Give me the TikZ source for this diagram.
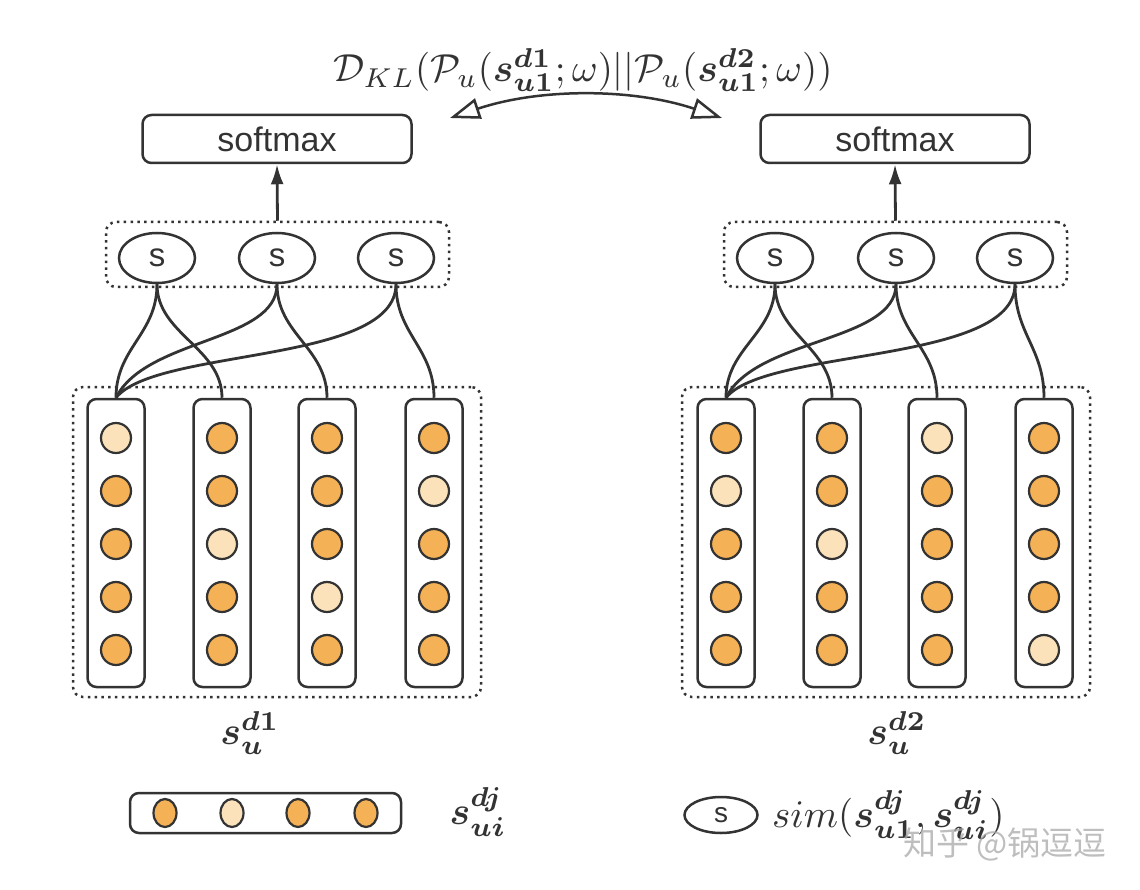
\documentclass[tikz,border=0pt]{standalone}
\usepackage{graphicx}
\usepackage{amsmath,bm}
\usepackage{fontspec}
\setsansfont{Liberation Sans}
\newfontfamily\cjkfont{Noto Sans CJK SC}
\usetikzlibrary{arrows.meta,shapes.geometric}
\definecolor{ink}{HTML}{333333}
\definecolor{dark}{HTML}{F4B155}
\definecolor{light}{HTML}{FBE2BA}
\definecolor{wm}{HTML}{A8A8A8}
\newcommand{\bigmath}[1]{\scalebox{3.9}{$#1$}}
\tikzset{
  box/.style={draw=ink, line width=2.5pt, rounded corners=9pt, inner sep=0pt},
  smbox/.style={box, minimum width=269pt, minimum height=48pt,
    font=\sffamily\fontsize{34}{38}\selectfont, text=ink},
  simnode/.style={ellipse, draw=ink, line width=2.5pt, minimum width=76pt,
    minimum height=50pt, inner sep=0pt, font=\sffamily\fontsize{33}{36}\selectfont, text=ink},
  grp/.style={draw=ink, line width=2.5pt, dash pattern=on 2.5pt off 4.3pt,
    rounded corners=10pt, inner sep=0pt},
  colbox/.style={box, minimum width=57pt, minimum height=288pt},
  dot/.style={circle, draw=ink, line width=2.2pt, minimum size=30pt, inner sep=0pt},
  legdot/.style={ellipse, draw=ink, line width=2.2pt, minimum width=23pt,
    minimum height=28pt, inner sep=0pt},
  link/.style={draw=ink, line width=2.8pt},
  mathlbl/.style={text=ink, inner sep=0pt},
}
\begin{document}
\begin{tikzpicture}[x=1pt,y=-1pt]
\useasboundingbox (0,0) rectangle (1140,890);

% ---------- softmax boxes ----------
\node[smbox] (smL) at (277,139) {softmax};
\node[smbox] (smR) at (895,139) {softmax};

% ---------- similarity groups ----------
\node[grp, minimum width=343pt, minimum height=65pt] (gL) at (277.5,254.5) {};
\node[grp, minimum width=343pt, minimum height=65pt] (gR) at (895.5,254.5) {};
\node[simnode] (sL1) at (157,258) {s};
\node[simnode] (sL2) at (277,258) {s};
\node[simnode] (sL3) at (396,258) {s};
\node[simnode] (sR1) at (775,258) {s};
\node[simnode] (sR2) at (896,258) {s};
\node[simnode] (sR3) at (1015,258) {s};

\draw[link,-{Latex[length=20pt,width=13pt]}] (gL.north) -- (smL.south);
\draw[link,-{Latex[length=20pt,width=13pt]}] (gR.north) -- (smR.south);

% ---------- big groups ----------
\node[grp, minimum width=408pt, minimum height=310pt] (bL) at (277,542) {};
\node[grp, minimum width=408pt, minimum height=310pt] (bR) at (886,542) {};

% left columns
\foreach \c/\x/\lr in {1/116/1, 2/222/3, 3/327/4, 4/434/2} {
  \node[colbox] (Lc\c) at (\x,543) {};
  \foreach \r/\y in {1/438,2/491,3/544,4/597,5/650} {
    \ifnum\r=\lr \def\fc{light}\else\def\fc{dark}\fi
    \node[dot, fill=\fc] (L\c r\r) at (\x,\y) {};
  }
}
% right columns
\foreach \c/\x/\lr in {1/726/2, 2/832/3, 3/937/1, 4/1044/5} {
  \node[colbox] (Rc\c) at (\x,543) {};
  \foreach \r/\y in {1/438,2/491,3/544,4/597,5/650} {
    \ifnum\r=\lr \def\fc{light}\else\def\fc{dark}\fi
    \node[dot, fill=\fc] (R\c r\r) at (\x,\y) {};
  }
}

% ---------- connectors ----------
\draw[link] (sL1.south) .. controls +(0,50) and +(0,-50) .. (Lc1.north);
\draw[link] (sL1.south) .. controls +(0,50) and +(0,-50) .. (Lc2.north);
\draw[link] (sL2.south) .. controls +(0,58) and +(30,-60) .. (Lc1.north);
\draw[link] (sL2.south) .. controls +(0,50) and +(0,-50) .. (Lc3.north);
\draw[link] (sL3.south) .. controls +(0,80) and +(40,-50) .. (Lc1.north);
\draw[link] (sL3.south) .. controls +(0,50) and +(0,-50) .. (Lc4.north);

\draw[link] (sR1.south) .. controls +(0,50) and +(0,-50) .. (Rc1.north);
\draw[link] (sR1.south) .. controls +(0,50) and +(0,-50) .. (Rc2.north);
\draw[link] (sR2.south) .. controls +(0,58) and +(30,-60) .. (Rc1.north);
\draw[link] (sR2.south) .. controls +(0,50) and +(0,-50) .. (Rc3.north);
\draw[link] (sR3.south) .. controls +(0,80) and +(40,-50) .. (Rc1.north);
\draw[link] (sR3.south) .. controls +(0,50) and +(0,-50) .. (Rc4.north);

% ---------- KL divergence ----------
\node[mathlbl] (kl) at (583,70)
  {\bigmath{\mathcal{D}_{KL}(\mathcal{P}_u(\bm{s}^{\bm{d1}}_{\bm{u1}};\omega)||\mathcal{P}_u(\bm{s}^{\bm{d2}}_{\bm{u1}};\omega))}};
\coordinate (kla) at (450,118);
\coordinate (klb) at (722,118);
\draw[link, line width=2.5pt, {Triangle[open,length=30pt,width=21pt]}-{Triangle[open,length=30pt,width=21pt]}]
  (kla) .. controls +(90,-30) and +(-90,-30) .. (klb);

% ---------- group labels ----------
\node[mathlbl] (labL) at (250,733) {\bigmath{\bm{s}^{\bm{d1}}_{\bm{u}}}};
\node[mathlbl] (labR) at (897,733) {\bigmath{\bm{s}^{\bm{d2}}_{\bm{u}}}};

% ---------- legend ----------
\node[box, minimum width=271pt, minimum height=40pt] (leg) at (265.5,813) {};
\node[legdot, fill=dark]  (g1) at (165,813) {};
\node[legdot, fill=light] (g2) at (232,813) {};
\node[legdot, fill=dark]  (g3) at (298,813) {};
\node[legdot, fill=dark]  (g4) at (366,813) {};
\node[mathlbl] (legl) at (478,812) {\bigmath{\bm{s}^{\bm{dj}}_{\bm{ui}}}};

\node[simnode, minimum width=73pt, minimum height=36pt, font=\sffamily\fontsize{28}{32}\selectfont] (legs) at (721,815) {s};
\node[mathlbl, anchor=west] (siml) at (772,815)
  {\bigmath{sim(\bm{s}^{\bm{dj}}_{\bm{u1}},\bm{s}^{\bm{dj}}_{\bm{ui}})}};

% ---------- watermark ----------
\node[text=wm, opacity=0.75, font=\cjkfont\fontsize{33}{36}\selectfont, inner sep=0pt] (wmk) at (1005,844) {知乎 @锅逗逗};
\end{tikzpicture}
\end{document}
